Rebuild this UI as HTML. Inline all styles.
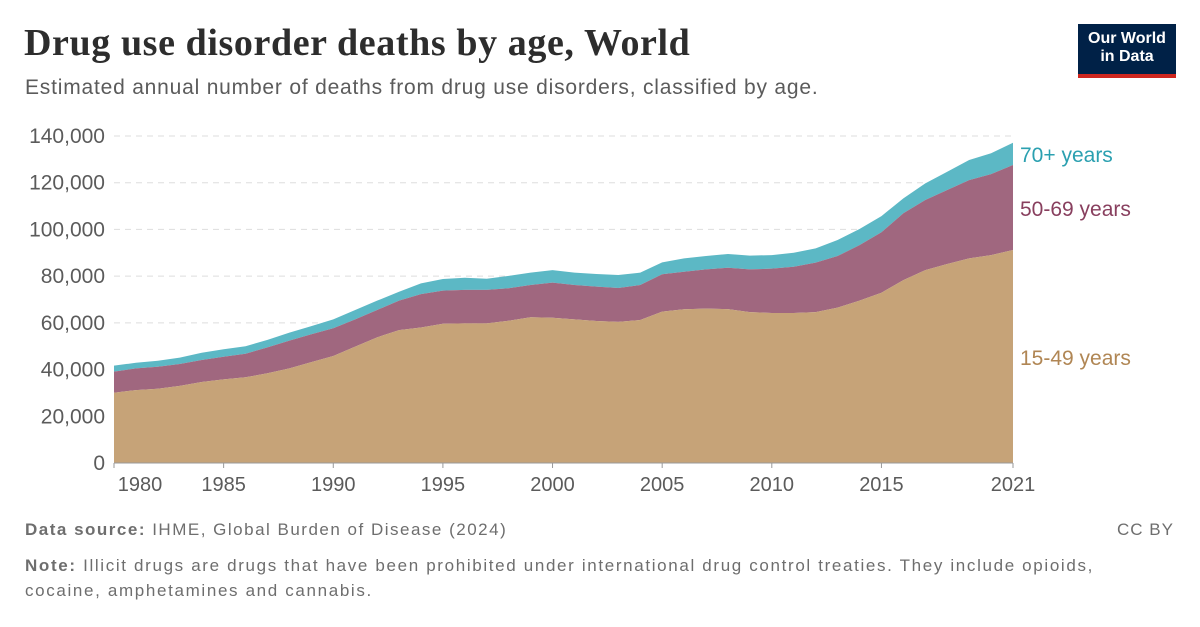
<!DOCTYPE html>
<html><head><meta charset="utf-8">
<style>
body{margin:0;width:1200px;height:627px;background:#fff;font-family:"Liberation Sans",sans-serif;overflow:hidden;position:relative}
.t{position:absolute;white-space:nowrap}
</style></head><body>
<div class="t" style="left:24px;top:21px;font-family:'Liberation Serif',serif;font-weight:bold;font-size:38px;letter-spacing:0.6px;color:#2d2d2d">Drug use disorder deaths by age, World</div>
<div class="t" style="left:25px;top:76px;font-size:21px;letter-spacing:0.8px;color:#5b5b5b">Estimated annual number of deaths from drug use disorders, classified by age.</div>
<div style="position:absolute;left:1078px;top:24px;width:98px;height:54px;background:#002147;border-bottom:4px solid #ce261e;box-sizing:border-box;color:#fff;font-size:16px;font-weight:bold;text-align:center;line-height:18px;padding-top:6px">Our World<br>in Data</div>
<svg id="chart" width="1200" height="627" style="position:absolute;left:0;top:0"></svg>
<div class="t" style="left:25px;top:520px;font-size:17px;letter-spacing:1.5px;color:#6e6e6e"><b>Data source:</b> IHME, Global Burden of Disease (2024)</div>
<div class="t" style="right:26px;top:520px;font-size:17px;letter-spacing:1px;color:#6e6e6e">CC BY</div>
<div class="t" style="left:25px;top:553px;font-size:17px;letter-spacing:1.65px;color:#6e6e6e;line-height:25px"><b>Note:</b> Illicit drugs are drugs that have been prohibited under international drug control treaties. They include opioids,<br>cocaine, amphetamines and cannabis.</div>
<script>
const years=[1980,1981,1982,1983,1984,1985,1986,1987,1988,1989,1990,1991,1992,1993,1994,1995,1996,1997,1998,1999,2000,2001,2002,2003,2004,2005,2006,2007,2008,2009,2010,2011,2012,2013,2014,2015,2016,2017,2018,2019,2020,2021];
const age15to49=[30.1,31.2,31.8,33.0,34.7,35.8,36.7,38.4,40.5,43.2,45.8,49.8,53.8,56.9,58.0,59.6,59.8,59.8,60.9,62.4,62.2,61.5,60.8,60.4,61.2,64.8,65.8,66.1,65.9,64.6,64.2,64.2,64.6,66.5,69.5,72.9,78.3,82.6,85.2,87.6,89.0,91.2];
const age50to69=[9.0,9.3,9.4,9.4,9.4,9.7,10.1,11.1,11.9,11.9,11.9,11.7,11.7,12.6,14.3,14.2,14.3,14.3,13.9,13.8,15.0,14.7,14.7,14.5,15.0,16.0,16.1,16.8,17.7,18.3,19.0,19.8,21.2,22.1,23.8,25.9,28.6,30.0,31.7,33.5,34.7,36.4];
const age70plus=[2.6,2.4,2.6,2.7,3.1,3.2,3.2,3.2,3.4,3.5,3.8,4.0,4.0,3.8,4.6,5.0,5.2,4.8,5.3,5.3,5.4,5.3,5.4,5.6,5.3,5.1,5.7,5.7,5.9,5.9,5.8,6.0,6.1,6.9,6.9,6.9,6.4,7.1,7.8,8.6,8.9,9.5];
const yTicks=[0,20000,40000,60000,80000,100000,120000,140000];
const xTicks=[1980,1985,1990,1995,2000,2005,2010,2015,2021];
const NS='http://www.w3.org/2000/svg';
const svg=document.getElementById('chart');
const X0=114,X1=1013,Y0=463,Y1=136;
const x=v=>X0+(v-years[0])/(years[years.length-1]-years[0])*(X1-X0);
const y=v=>Y0-v/140000*(Y0-Y1);
function mk(t,a){const e=document.createElementNS(NS,t);for(const k in a)e.setAttribute(k,a[k]);svg.appendChild(e);return e;}
yTicks.forEach(v=>{
  if(v>0){const g=mk('line',{x1:X0,x2:X1,y1:y(v),y2:y(v),stroke:'#ddd','stroke-dasharray':'6,5'});
  
  }
  const t=mk('text',{x:105,y:y(v)+7,'text-anchor':'end','font-size':21,fill:'#5b5b5b','font-family':'Liberation Sans'});
  t.textContent=v.toLocaleString('en-US');
  
  
});
const c1=age15to49.map(v=>v*1000);
const c2=age50to69.map((v,i)=>c1[i]+v*1000);
const c3=age70plus.map((v,i)=>c2[i]+v*1000);
function area(top,bot,fill,name){
  let d='M'+years.map((yr,i)=>x(yr)+','+y(top[i])).join('L');
  for(let i=years.length-1;i>=0;i--)d+='L'+x(years[i])+','+y(bot?bot[i]:0);
  const p=mk('path',{d:d+'Z',fill:fill});
  
  
}
area(c3,c2,'#5cb8c5','area-70-plus');
area(c2,c1,'#a0677f','area-50-69');
area(c1,null,'#c6a378','area-15-49');
const ax=mk('line',{x1:X0,x2:X1,y1:Y0,y2:Y0,stroke:'#999'});


xTicks.forEach(v=>{
  const tk=mk('line',{x1:x(v),x2:x(v),y1:Y0,y2:Y0+5,stroke:'#999'});
  
  
  const t=mk('text',{x:v===1980?X0+26:x(v),y:491,'text-anchor':'middle','font-size':20,fill:'#5b5b5b','font-family':'Liberation Sans'});
  t.textContent=v;
  
  
});
const labs=[['70+ years','#2ba0b0',162,'legend-70-plus'],['50-69 years','#883f5e',216,'legend-50-69'],['15-49 years','#b08654',365,'legend-15-49']];
labs.forEach(l=>{const t=mk('text',{x:1020,y:l[2],'font-size':21,fill:l[1],'font-family':'Liberation Sans'});t.textContent=l[0];

});
</script>
</body></html>
